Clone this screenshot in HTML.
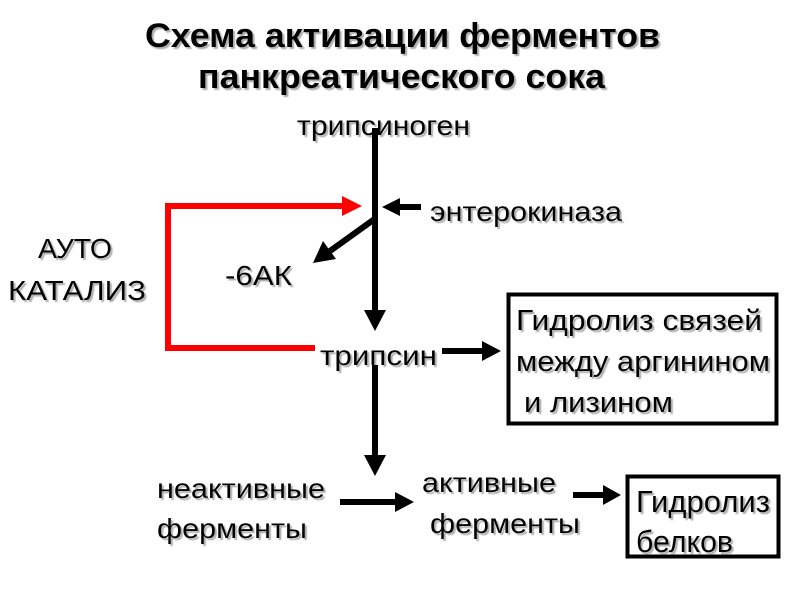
<!DOCTYPE html>
<html><head><meta charset="utf-8"><style>
body{margin:0;background:#fff}
svg text{font-family:"Liberation Sans",sans-serif;fill:#000}
</style></head><body>
<svg width="800" height="600" viewBox="0 0 800 600" xmlns="http://www.w3.org/2000/svg">
<defs><filter id="sh" x="-5%" y="-20%" width="110%" height="140%"><feDropShadow dx="2" dy="2" stdDeviation="0.5" flood-color="#999" flood-opacity="0.8"/></filter></defs>
<g filter="url(#sh)">
<text x="145" y="47" font-size="34" font-weight="bold" textLength="515" lengthAdjust="spacingAndGlyphs">Схема активации ферментов</text>
<text x="198" y="88" font-size="34" font-weight="bold" textLength="407" lengthAdjust="spacingAndGlyphs">панкреатического сока</text>
<text x="297" y="135" font-size="28" textLength="173" lengthAdjust="spacingAndGlyphs">трипсиноген</text>
<text x="430" y="221" font-size="28" textLength="192" lengthAdjust="spacingAndGlyphs">энтерокиназа</text>
<text x="225" y="285" font-size="28" textLength="67" lengthAdjust="spacingAndGlyphs">-6АК</text>
<text x="38" y="258" font-size="28" textLength="74" lengthAdjust="spacingAndGlyphs">АУТО</text>
<text x="8" y="300" font-size="28" textLength="138" lengthAdjust="spacingAndGlyphs">КАТАЛИЗ</text>
<text x="320" y="365" font-size="28" textLength="117" lengthAdjust="spacingAndGlyphs">трипсин</text>
<text x="516" y="330" font-size="29" textLength="246" lengthAdjust="spacingAndGlyphs">Гидролиз связей</text>
<text x="516" y="371" font-size="29" textLength="254" lengthAdjust="spacingAndGlyphs">между аргинином</text>
<text x="524" y="412" font-size="29" textLength="149" lengthAdjust="spacingAndGlyphs">и лизином</text>
<text x="157" y="498" font-size="28" textLength="168" lengthAdjust="spacingAndGlyphs">неактивные</text>
<text x="157" y="538" font-size="28" textLength="150" lengthAdjust="spacingAndGlyphs">ферменты</text>
<text x="422" y="492" font-size="28" textLength="134" lengthAdjust="spacingAndGlyphs">активные</text>
<text x="430" y="533" font-size="28" textLength="150" lengthAdjust="spacingAndGlyphs">ферменты</text>
<text x="636" y="512" font-size="31" textLength="134" lengthAdjust="spacingAndGlyphs">Гидролиз</text>
<text x="636" y="552" font-size="31" textLength="97" lengthAdjust="spacingAndGlyphs">белков</text>
</g>
<g stroke="#000" stroke-width="6" fill="none">
<line x1="375" y1="128" x2="375" y2="312"/>
<line x1="375" y1="365" x2="375" y2="457"/>
<line x1="421" y1="207" x2="398" y2="207"/>
<line x1="376" y1="218" x2="330" y2="251"/>
<line x1="442" y1="351" x2="482" y2="351"/>
<line x1="340" y1="502" x2="395" y2="502"/>
<line x1="573" y1="495" x2="603" y2="495"/>
<rect x="508.5" y="294.5" width="268" height="129" stroke-width="4"/>
<rect x="627.5" y="476.5" width="151" height="80" stroke-width="4"/>
</g>
<g fill="#000">
<polygon points="364,310 386,310 375,331"/>
<polygon points="364,455 386,455 375,476"/>
<polygon points="400,198 400,216 382,207"/>
<polygon points="323,241 336,259 313,263"/>
<polygon points="482,341 482,361 501,351"/>
<polygon points="395,492 395,512 414,502"/>
<polygon points="603,485 603,505 621,495"/>
</g>
<polyline points="315,348 168,348 168,206 345,206" stroke="#f00" stroke-width="6" fill="none"/>
<polygon points="342,196 342,216 362,206" fill="#f00"/>
</svg>
</body></html>
